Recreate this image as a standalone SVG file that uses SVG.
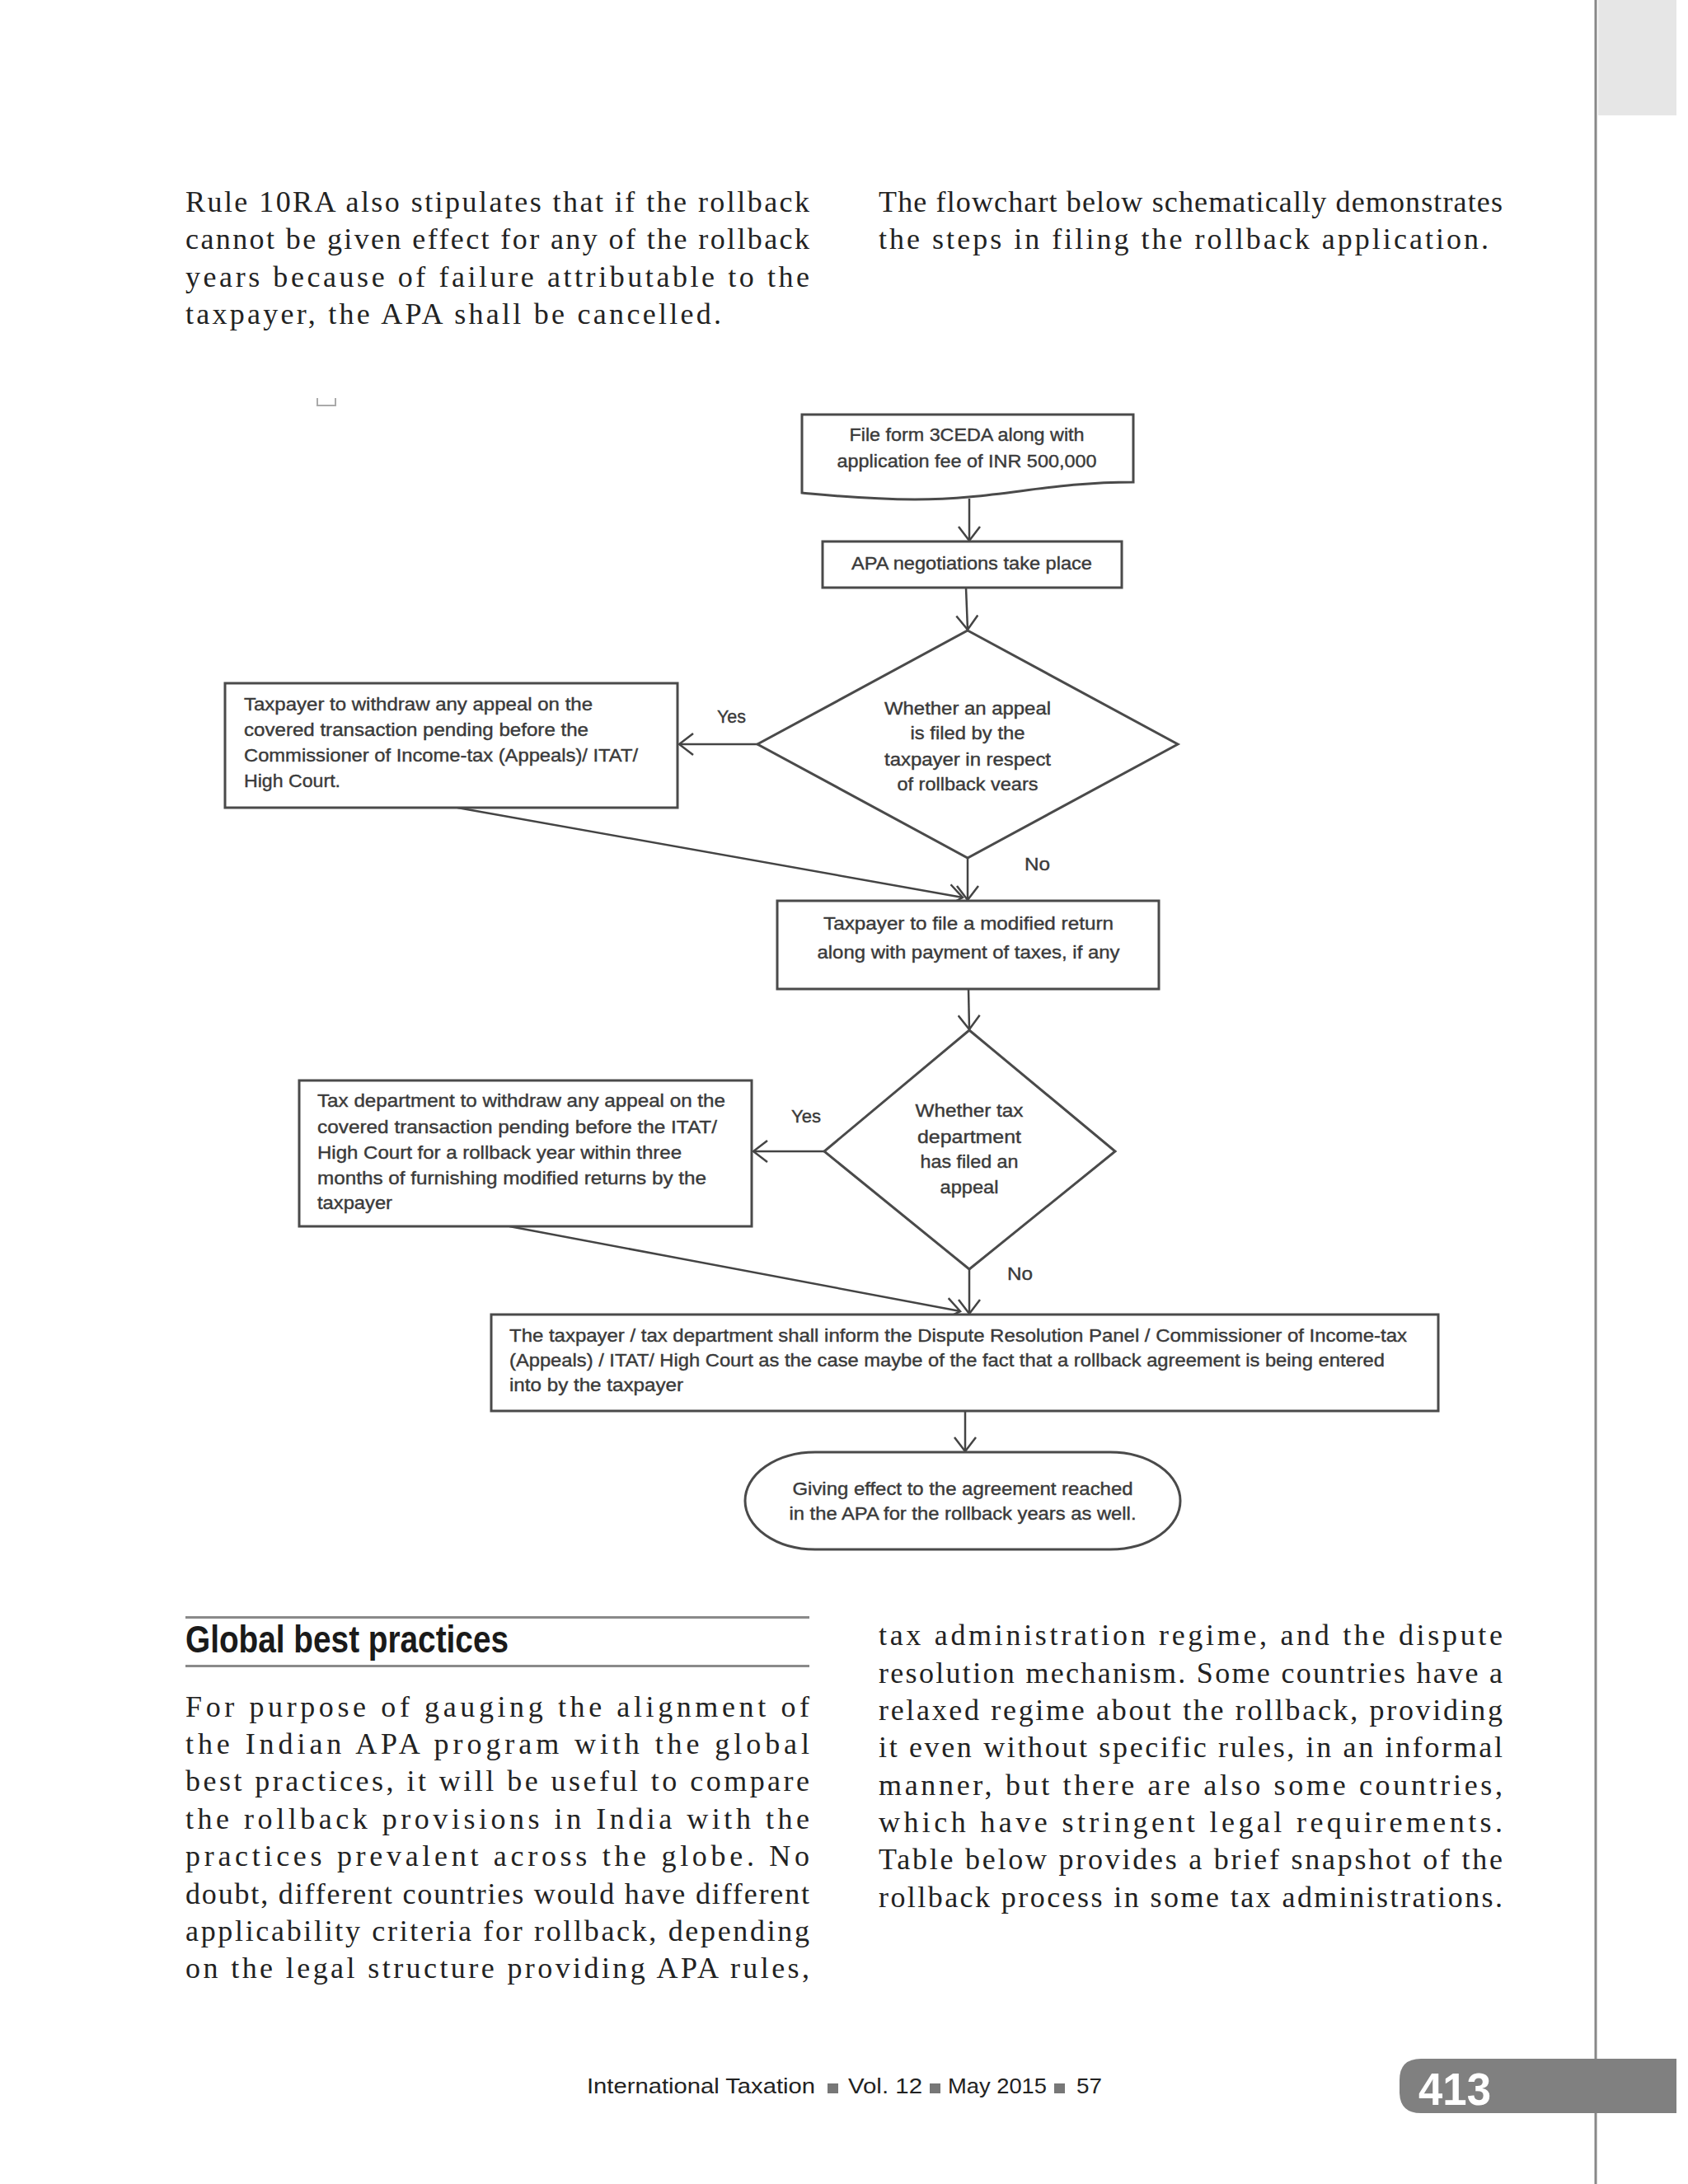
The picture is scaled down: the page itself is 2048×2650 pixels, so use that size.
<svg xmlns="http://www.w3.org/2000/svg" width="2048" height="2650" viewBox="0 0 2048 2650">
<defs>
<marker id="arr" viewBox="0 0 20 28" markerWidth="20" markerHeight="28" refX="18" refY="14" orient="auto" markerUnits="userSpaceOnUse">
<path d="M1,1 L18,14 L1,27" fill="none" stroke="#444" stroke-width="2.5"/>
</marker>
</defs>
<style>
.body{font-family:"Liberation Serif","Times New Roman",serif;font-size:36px;fill:#222}
.fc{font-family:"Liberation Sans",Arial,sans-serif;font-size:22px;fill:#3a3a3a;stroke:#3a3a3a;stroke-width:0.4}
.box{fill:#fff;stroke:#4a4a4a;stroke-width:3}
.conn line{stroke:#444;stroke-width:2.5;marker-end:url(#arr)}
.lbl{font-family:"Liberation Sans",Arial,sans-serif;font-size:22px;fill:#3a3a3a;stroke:#3a3a3a;stroke-width:0.4}
.foot{font-family:"Liberation Sans",Arial,sans-serif;font-size:25px;fill:#222}
</style>
<rect width="2048" height="2650" fill="#fff"/>
<!-- page furniture -->
<rect x="1939" y="0" width="95" height="140" fill="#e6e6e6"/>
<line x1="1936" y1="0" x2="1936" y2="2650" stroke="#888" stroke-width="3"/>
<path d="M385,483 v9 h22 v-9" fill="none" stroke="#aaa" stroke-width="2"/>

<!-- top paragraphs -->
<g id="para-top-left" class="body">
<text x="225" y="257" textLength="757" lengthAdjust="spacing">Rule 10RA also stipulates that if the rollback</text>
<text x="225" y="302" textLength="757" lengthAdjust="spacing">cannot be given effect for any of the rollback</text>
<text x="225" y="348" textLength="757" lengthAdjust="spacing">years because of failure attributable to the</text>
<text x="225" y="393" textLength="650" lengthAdjust="spacing">taxpayer, the APA shall be cancelled.</text>
</g>
<g id="para-top-right" class="body">
<text x="1066" y="257" textLength="757" lengthAdjust="spacing">The flowchart below schematically demonstrates</text>
<text x="1066" y="302" textLength="740" lengthAdjust="spacing">the steps in filing the rollback application.</text>
</g>

<!-- connectors -->
<g id="connectors" class="conn">
<line x1="1176" y1="605" x2="1176" y2="656"/>
<line x1="1172" y1="713" x2="1174" y2="764"/>
<line x1="919" y1="903" x2="824" y2="903"/>
<line x1="1174" y1="1041" x2="1174" y2="1092"/>
<line x1="555" y1="980" x2="1168" y2="1089"/>
<line x1="1175" y1="1200" x2="1176" y2="1249"/>
<line x1="1000" y1="1397" x2="914" y2="1397"/>
<line x1="1176" y1="1540" x2="1176" y2="1594"/>
<line x1="618" y1="1488" x2="1165" y2="1591"/>
<line x1="1171" y1="1712" x2="1171" y2="1761"/>
</g>

<!-- nodes -->
<g id="n-file">
<path class="box" d="M973,503 L1375,503 L1375,585 C1270,585 1210,606 1110,606 C1050,606 1005,601 973,598 Z"/>
<text class="fc" x="1173" y="535" text-anchor="middle" textLength="285" lengthAdjust="spacingAndGlyphs">File form 3CEDA along with</text>
<text class="fc" x="1173" y="567" text-anchor="middle" textLength="315" lengthAdjust="spacingAndGlyphs">application fee of INR 500,000</text>
</g>
<g id="n-apa">
<rect class="box" x="998" y="657" width="363" height="56"/>
<text class="fc" x="1179" y="691" text-anchor="middle" textLength="292" lengthAdjust="spacingAndGlyphs">APA negotiations take place</text>
</g>
<g id="n-appeal-q">
<polygon class="box" points="1174,765 1429,903 1174,1041 919,903"/>
<text class="fc" x="1174" y="867" text-anchor="middle" textLength="202" lengthAdjust="spacingAndGlyphs">Whether an appeal</text>
<text class="fc" x="1174" y="897" text-anchor="middle" textLength="139" lengthAdjust="spacingAndGlyphs">is filed by the</text>
<text class="fc" x="1174" y="929" text-anchor="middle" textLength="202" lengthAdjust="spacingAndGlyphs">taxpayer in respect</text>
<text class="fc" x="1174" y="959" text-anchor="middle" textLength="171" lengthAdjust="spacingAndGlyphs">of rollback vears</text>
</g>
<g id="n-withdraw-taxpayer">
<rect class="box" x="273" y="829" width="549" height="151"/>
<text class="fc" x="296" y="862" textLength="423" lengthAdjust="spacingAndGlyphs">Taxpayer to withdraw any appeal on the</text>
<text class="fc" x="296" y="893" textLength="418" lengthAdjust="spacingAndGlyphs">covered transaction pending before the</text>
<text class="fc" x="296" y="924" textLength="478" lengthAdjust="spacingAndGlyphs">Commissioner of Income-tax (Appeals)/ ITAT/</text>
<text class="fc" x="296" y="955" textLength="117" lengthAdjust="spacingAndGlyphs">High Court.</text>
</g>
<g id="n-modified-return">
<rect class="box" x="943" y="1093" width="463" height="107"/>
<text class="fc" x="1175" y="1128" text-anchor="middle" textLength="352" lengthAdjust="spacingAndGlyphs">Taxpayer to file a modified return</text>
<text class="fc" x="1175" y="1163" text-anchor="middle" textLength="367" lengthAdjust="spacingAndGlyphs">along with payment of taxes, if any</text>
</g>
<g id="n-dept-q">
<polygon class="box" points="1176,1250 1353,1397 1176,1540 1000,1397"/>
<text class="fc" x="1176" y="1355" text-anchor="middle" textLength="131" lengthAdjust="spacingAndGlyphs">Whether tax</text>
<text class="fc" x="1176" y="1387" text-anchor="middle" textLength="126" lengthAdjust="spacingAndGlyphs">department</text>
<text class="fc" x="1176" y="1417" text-anchor="middle" textLength="119" lengthAdjust="spacingAndGlyphs">has filed an</text>
<text class="fc" x="1176" y="1448" text-anchor="middle" textLength="71" lengthAdjust="spacingAndGlyphs">appeal</text>
</g>
<g id="n-withdraw-dept">
<rect class="box" x="363" y="1311" width="549" height="177"/>
<text class="fc" x="385" y="1343" textLength="495" lengthAdjust="spacingAndGlyphs">Tax department to withdraw any appeal on the</text>
<text class="fc" x="385" y="1375" textLength="485" lengthAdjust="spacingAndGlyphs">covered transaction pending before the ITAT/</text>
<text class="fc" x="385" y="1406" textLength="442" lengthAdjust="spacingAndGlyphs">High Court for a rollback year within three</text>
<text class="fc" x="385" y="1437" textLength="472" lengthAdjust="spacingAndGlyphs">months of furnishing modified returns by the</text>
<text class="fc" x="385" y="1467" textLength="91" lengthAdjust="spacingAndGlyphs">taxpayer</text>
</g>
<g id="n-inform">
<rect class="box" x="596" y="1595" width="1149" height="117"/>
<text class="fc" x="618" y="1628" textLength="1089" lengthAdjust="spacingAndGlyphs">The taxpayer / tax department shall inform the Dispute Resolution Panel / Commissioner of Income-tax</text>
<text class="fc" x="618" y="1658" textLength="1062" lengthAdjust="spacingAndGlyphs">(Appeals) / ITAT/ High Court as the case maybe of the fact that a rollback agreement is being entered</text>
<text class="fc" x="618" y="1688" textLength="211" lengthAdjust="spacingAndGlyphs">into by the taxpayer</text>
</g>
<g id="n-effect">
<rect class="box" x="904" y="1762" width="528" height="118" rx="85" ry="59"/>
<text class="fc" x="1168" y="1814" text-anchor="middle" textLength="413" lengthAdjust="spacingAndGlyphs">Giving effect to the agreement reached</text>
<text class="fc" x="1168" y="1844" text-anchor="middle" textLength="421" lengthAdjust="spacingAndGlyphs">in the APA for the rollback years as well.</text>
</g>

<!-- edge labels -->
<g id="edge-labels" class="lbl">
<text x="870" y="877" textLength="35" lengthAdjust="spacingAndGlyphs">Yes</text>
<text x="1243" y="1056" textLength="31" lengthAdjust="spacingAndGlyphs">No</text>
<text x="960" y="1362" textLength="36" lengthAdjust="spacingAndGlyphs">Yes</text>
<text x="1222" y="1553" textLength="31" lengthAdjust="spacingAndGlyphs">No</text>
</g>

<!-- heading -->
<g id="heading">
<rect x="225" y="1961" width="757" height="3" fill="#8a8a8a"/>
<rect x="225" y="2020" width="757" height="3" fill="#8a8a8a"/>
<text x="225" y="2005" font-family="Liberation Sans, Arial, sans-serif" font-weight="bold" font-size="46" fill="#1a1a1a" textLength="392" lengthAdjust="spacingAndGlyphs">Global best practices</text>
</g>

<g id="para-bottom-left" class="body">
<text x="225" y="2083" textLength="757" lengthAdjust="spacing">For purpose of gauging the alignment of</text>
<text x="225" y="2128" textLength="757" lengthAdjust="spacing">the Indian APA program with the global</text>
<text x="225" y="2173" textLength="757" lengthAdjust="spacing">best practices, it will be useful to compare</text>
<text x="225" y="2219" textLength="757" lengthAdjust="spacing">the rollback provisions in India with the</text>
<text x="225" y="2264" textLength="757" lengthAdjust="spacing">practices prevalent across the globe. No</text>
<text x="225" y="2310" textLength="757" lengthAdjust="spacing">doubt, different countries would have different</text>
<text x="225" y="2355" textLength="757" lengthAdjust="spacing">applicability criteria for rollback, depending</text>
<text x="225" y="2400" textLength="757" lengthAdjust="spacing">on the legal structure providing APA rules,</text>
</g>
<g id="para-bottom-right" class="body">
<text x="1066" y="1996" textLength="757" lengthAdjust="spacing">tax administration regime, and the dispute</text>
<text x="1066" y="2042" textLength="757" lengthAdjust="spacing">resolution mechanism. Some countries have a</text>
<text x="1066" y="2087" textLength="757" lengthAdjust="spacing">relaxed regime about the rollback, providing</text>
<text x="1066" y="2132" textLength="757" lengthAdjust="spacing">it even without specific rules, in an informal</text>
<text x="1066" y="2178" textLength="757" lengthAdjust="spacing">manner, but there are also some countries,</text>
<text x="1066" y="2223" textLength="757" lengthAdjust="spacing">which have stringent legal requirements.</text>
<text x="1066" y="2268" textLength="757" lengthAdjust="spacing">Table below provides a brief snapshot of the</text>
<text x="1066" y="2314" textLength="757" lengthAdjust="spacing">rollback process in some tax administrations.</text>
</g>

<!-- footer -->
<g id="footer">
<text class="foot" x="712" y="2540" textLength="277" lengthAdjust="spacingAndGlyphs">International Taxation</text>
<rect x="1004" y="2528" width="13" height="12" fill="#777"/>
<text class="foot" x="1029" y="2540" textLength="90" lengthAdjust="spacingAndGlyphs">Vol. 12</text>
<rect x="1128" y="2528" width="13" height="12" fill="#777"/>
<text class="foot" x="1150" y="2540" textLength="120" lengthAdjust="spacingAndGlyphs">May 2015</text>
<rect x="1279" y="2528" width="13" height="12" fill="#777"/>
<text class="foot" x="1306" y="2540" textLength="31" lengthAdjust="spacingAndGlyphs">57</text>
<path d="M1724,2498 H2034 V2564 H1724 Q1698,2564 1698,2538 V2524 Q1698,2498 1724,2498 Z" fill="#808080"/>
<text x="1721" y="2554" font-family="Liberation Sans, Arial, sans-serif" font-weight="bold" font-size="56" fill="#fff" textLength="88" lengthAdjust="spacingAndGlyphs">413</text>
</g>
</svg>
